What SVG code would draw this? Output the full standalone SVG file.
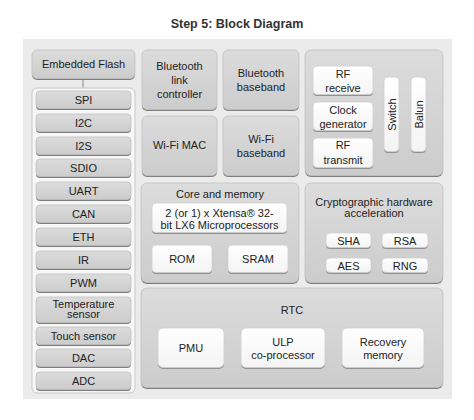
<svg xmlns="http://www.w3.org/2000/svg" width="474" height="420" viewBox="0 0 474 420">
<defs>
<linearGradient id="gg" x1="0" y1="0" x2="0" y2="1">
<stop offset="0" stop-color="#dcdcdc"/>
<stop offset="1" stop-color="#cccccc"/>
</linearGradient>
<linearGradient id="gw" x1="0" y1="0" x2="0" y2="1">
<stop offset="0" stop-color="#ffffff"/>
<stop offset="1" stop-color="#f4f4f4"/>
</linearGradient>
</defs>
<style>
text{font-family:"Liberation Sans",Arial,Helvetica,sans-serif;font-size:11px;fill:#222;text-anchor:middle}
.title{font-size:12.5px;font-weight:bold;fill:#333}
.g{fill:url(#gg);stroke:#c0c0c0;stroke-width:0.8}
.gs{fill:#7e7e7e}
.w{fill:url(#gw);stroke:#cfcfcf;stroke-width:0.8}
.ws{fill:#919191}
.panel{fill:#ebebeb}
.cont{fill:#f7f7f7;stroke:#c8c8c8;stroke-width:1}
.conn{stroke:#9a9a9a;stroke-width:1.2;fill:none}
</style>
<rect width="474" height="420" fill="#ffffff"/>
<text class="title" x="237" y="28">Step 5: Block Diagram</text>
<rect class="panel" x="23" y="39" width="429" height="360"/>

<g id="connectors">
<line class="conn" x1="83" y1="79" x2="83" y2="88"/>
</g>

<g id="embedded-flash">
<rect class="gs" x="32" y="51" width="103" height="29" rx="5"/>
<rect class="g" x="32" y="50" width="103" height="28.5" rx="5"/>
<text x="83.5" y="68">Embedded Flash</text>
</g>

<g id="peripherals">
<rect class="cont" x="32" y="88" width="103" height="305" rx="5"/>
<g id="spi"><rect class="gs" x="36" y="92" width="95" height="18" rx="4"/><rect class="g" x="36" y="91" width="95" height="17.5" rx="4"/><text x="83.5" y="104">SPI</text></g>
<g id="i2c"><rect class="gs" x="36" y="115" width="95" height="18" rx="4"/><rect class="g" x="36" y="114" width="95" height="17.5" rx="4"/><text x="83.5" y="127">I2C</text></g>
<g id="i2s"><rect class="gs" x="36" y="138" width="95" height="18" rx="4"/><rect class="g" x="36" y="137" width="95" height="17.5" rx="4"/><text x="83.5" y="150">I2S</text></g>
<g id="sdio"><rect class="gs" x="36" y="160" width="95" height="18" rx="4"/><rect class="g" x="36" y="159" width="95" height="17.5" rx="4"/><text x="83.5" y="172">SDIO</text></g>
<g id="uart"><rect class="gs" x="36" y="183" width="95" height="18" rx="4"/><rect class="g" x="36" y="182" width="95" height="17.5" rx="4"/><text x="83.5" y="195">UART</text></g>
<g id="can"><rect class="gs" x="36" y="206" width="95" height="18" rx="4"/><rect class="g" x="36" y="205" width="95" height="17.5" rx="4"/><text x="83.5" y="218">CAN</text></g>
<g id="eth"><rect class="gs" x="36" y="229" width="95" height="18" rx="4"/><rect class="g" x="36" y="228" width="95" height="17.5" rx="4"/><text x="83.5" y="241">ETH</text></g>
<g id="ir"><rect class="gs" x="36" y="252" width="95" height="18" rx="4"/><rect class="g" x="36" y="251" width="95" height="17.5" rx="4"/><text x="83.5" y="264">IR</text></g>
<g id="pwm"><rect class="gs" x="36" y="275" width="95" height="18" rx="4"/><rect class="g" x="36" y="274" width="95" height="17.5" rx="4"/><text x="83.5" y="287">PWM</text></g>
<g id="temp"><rect class="gs" x="36" y="298" width="95" height="26" rx="4"/><rect class="g" x="36" y="297" width="95" height="25.5" rx="4"/><text x="83.5" y="307.5">Temperature</text><text x="83.5" y="318">sensor</text></g>
<g id="touch"><rect class="gs" x="36" y="328" width="95" height="18" rx="4"/><rect class="g" x="36" y="327" width="95" height="17.5" rx="4"/><text x="83.5" y="340">Touch sensor</text></g>
<g id="dac"><rect class="gs" x="36" y="350" width="95" height="18" rx="4"/><rect class="g" x="36" y="349" width="95" height="17.5" rx="4"/><text x="83.5" y="362">DAC</text></g>
<g id="adc"><rect class="gs" x="36" y="373" width="95" height="18" rx="4"/><rect class="g" x="36" y="372" width="95" height="17.5" rx="4"/><text x="83.5" y="385">ADC</text></g>
</g>

<g id="bt-link">
<rect class="gs" x="142" y="51" width="75" height="60" rx="5"/>
<rect class="g" x="142" y="50" width="75" height="59.5" rx="5"/>
<text x="179.5" y="70">Bluetooth</text><text x="179.5" y="84">link</text><text x="179.5" y="98">controller</text>
</g>
<g id="bt-baseband">
<rect class="gs" x="223" y="51" width="76" height="60" rx="5"/>
<rect class="g" x="223" y="50" width="76" height="59.5" rx="5"/>
<text x="261" y="77">Bluetooth</text><text x="261" y="91">baseband</text>
</g>
<g id="wifi-mac">
<rect class="gs" x="142" y="117" width="75" height="60" rx="5"/>
<rect class="g" x="142" y="116" width="75" height="59.5" rx="5"/>
<text x="179.5" y="149">Wi-Fi MAC</text>
</g>
<g id="wifi-baseband">
<rect class="gs" x="223" y="117" width="76" height="60" rx="5"/>
<rect class="g" x="223" y="116" width="76" height="59.5" rx="5"/>
<text x="261" y="143">Wi-Fi</text><text x="261" y="157">baseband</text>
</g>

<g id="rf">
<rect class="gs" x="305" y="51" width="138" height="126" rx="6"/>
<rect class="g" x="305" y="50" width="138" height="125.5" rx="6"/>
<g id="rf-receive"><rect class="ws" x="313" y="67" width="60" height="29" rx="4"/><rect class="w" x="313" y="66" width="60" height="28.5" rx="4"/><text x="343" y="78">RF</text><text x="343" y="92">receive</text></g>
<g id="clock"><rect class="ws" x="313" y="103" width="60" height="29" rx="4"/><rect class="w" x="313" y="102" width="60" height="28.5" rx="4"/><text x="343" y="114">Clock</text><text x="343" y="128">generator</text></g>
<g id="rf-transmit"><rect class="ws" x="313" y="139" width="60" height="30" rx="4"/><rect class="w" x="313" y="138" width="60" height="29.5" rx="4"/><text x="343" y="149">RF</text><text x="343" y="164">transmit</text></g>
<g id="switch"><rect class="ws" x="384" y="78" width="15" height="75" rx="4"/><rect class="w" x="384" y="77" width="15" height="74.5" rx="4"/><text transform="translate(395.5,114.5) rotate(-90)">Switch</text></g>
<g id="balun"><rect class="ws" x="411" y="78" width="15" height="75" rx="4"/><rect class="w" x="411" y="77" width="15" height="74.5" rx="4"/><text transform="translate(422.5,114.5) rotate(-90)">Balun</text></g>
</g>

<g id="core">
<rect class="gs" x="141" y="184" width="158" height="100" rx="6"/>
<rect class="g" x="141" y="183" width="158" height="99.5" rx="6"/>
<text x="220" y="198">Core and memory</text>
<g id="xtensa"><rect class="ws" x="152" y="204" width="135" height="30" rx="4"/><rect class="w" x="152" y="203" width="135" height="29.5" rx="4"/><text x="219.5" y="217">2 (or 1) x Xtensa® 32-</text><text x="219.5" y="229">bit LX6 Microprocessors</text></g>
<g id="rom"><rect class="ws" x="152" y="246" width="60" height="28" rx="4"/><rect class="w" x="152" y="245" width="60" height="27.5" rx="4"/><text x="182" y="263">ROM</text></g>
<g id="sram"><rect class="ws" x="228" y="246" width="60" height="28" rx="4"/><rect class="w" x="228" y="245" width="60" height="27.5" rx="4"/><text x="258" y="263">SRAM</text></g>
</g>

<g id="crypto">
<rect class="gs" x="305" y="184" width="138" height="100" rx="6"/>
<rect class="g" x="305" y="183" width="138" height="99.5" rx="6"/>
<text x="374" y="206">Cryptographic hardware</text>
<text x="374" y="216.5">acceleration</text>
<g id="sha"><rect class="ws" x="326" y="234" width="45" height="15" rx="4"/><rect class="w" x="326" y="233" width="45" height="14.5" rx="4"/><text x="348.5" y="244.5">SHA</text></g>
<g id="rsa"><rect class="ws" x="382" y="234" width="46" height="15" rx="4"/><rect class="w" x="382" y="233" width="46" height="14.5" rx="4"/><text x="405" y="244.5">RSA</text></g>
<g id="aes"><rect class="ws" x="326" y="259" width="45" height="15" rx="4"/><rect class="w" x="326" y="258" width="45" height="14.5" rx="4"/><text x="348.5" y="269.5">AES</text></g>
<g id="rng"><rect class="ws" x="382" y="259" width="46" height="15" rx="4"/><rect class="w" x="382" y="258" width="46" height="14.5" rx="4"/><text x="405" y="269.5">RNG</text></g>
</g>

<g id="rtc">
<rect class="gs" x="141" y="289" width="302" height="100" rx="6"/>
<rect class="g" x="141" y="288" width="302" height="99.5" rx="6"/>
<text x="292" y="314">RTC</text>
<g id="pmu"><rect class="ws" x="158" y="329" width="66" height="40" rx="5"/><rect class="w" x="158" y="328" width="66" height="39.5" rx="5"/><text x="191" y="352">PMU</text></g>
<g id="ulp"><rect class="ws" x="241" y="329" width="84" height="40" rx="5"/><rect class="w" x="241" y="328" width="84" height="39.5" rx="5"/><text x="283" y="346">ULP</text><text x="283" y="359">co-processor</text></g>
<g id="recovery"><rect class="ws" x="342" y="329" width="82" height="40" rx="5"/><rect class="w" x="342" y="328" width="82" height="39.5" rx="5"/><text x="383" y="346">Recovery</text><text x="383" y="359">memory</text></g>
</g>
</svg>
